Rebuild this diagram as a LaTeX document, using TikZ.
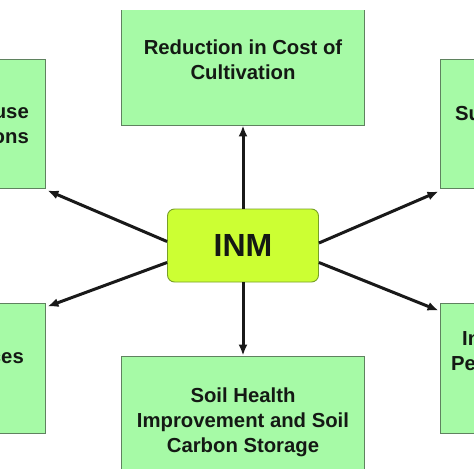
\documentclass[tikz,border=0pt]{standalone}
\usepackage{fontspec}
\setmainfont{Liberation Sans}
\usetikzlibrary{arrows.meta}
\definecolor{boxgreen}{RGB}{166,250,166}
\definecolor{boxline}{RGB}{95,130,95}
\definecolor{hubfill}{RGB}{204,255,51}
\definecolor{hubline}{RGB}{120,160,40}
\definecolor{inktext}{RGB}{20,25,20}
\begin{document}
\begin{tikzpicture}[x=1pt,y=-1pt,
		box/.style={draw=boxline,line width=0.9pt,fill=boxgreen,inner sep=0pt,align=center,text=inktext,font=\bfseries\fontsize{20.3}{25}\selectfont},
		txt/.style={inner sep=0pt,text=inktext,font=\bfseries\fontsize{20.3}{25}\selectfont},
		hub/.style={draw=hubline,line width=0.9pt,fill=hubfill,rounded corners=7pt,minimum width=151pt,minimum height=73pt,text=inktext,font=\bfseries\fontsize{32}{36}\selectfont},
		arr/.style={line width=3pt,draw=black!90,-{Latex[length=11pt,width=9pt]}}]
		\useasboundingbox (0,0) rectangle (474,474);
		\clip (0,10) rectangle (474,468);
		\node[hub] (inm) at (243,245.5) {INM};
		\node[box,minimum width=243pt,minimum height=131pt] (cost) at (243,59.5) {Reduction in Cost of\\Cultivation};
		\node[box,minimum width=243pt,minimum height=132pt] (soil) at (243,422) {Soil Health\\Improvement and Soil\\Carbon Storage};
		\node[box,minimum width=245pt,minimum height=129pt] (ghg) at (-77.5,123.5) {};
		\node[box,minimum width=245pt,minimum height=129pt] (sus) at (562.5,123.5) {};
		\node[box,minimum width=245pt,minimum height=130pt] (res) at (-77.5,368) {};
		\node[box,minimum width=245pt,minimum height=130pt] (pest) at (562.5,368) {};
		% cut-off texts of the side boxes
		\node[txt,anchor=base east] (ghgA) at (29,118) {use};
		\node[txt,anchor=base east] (ghgB) at (29,143) {ons};
		\node[txt,anchor=base west] (susA) at (455,120) {Su};
		\node[txt,anchor=base east] (resA) at (24,363) {ces};
		\node[txt,anchor=base west] (pestA) at (462,345) {In};
		\node[txt,anchor=base west] (pestB) at (451,370) {Pe};
		\draw[arr] (inm.north) -- (cost.south);
		\draw[arr] (inm.south) -- (soil.north);
		\draw[arr] ([yshift=4pt]inm.west) -- ([xshift=2pt,yshift=-2pt]ghg.south east);
		\draw[arr] ([yshift=-17pt]inm.west) -- ([xshift=2pt,yshift=-4pt]res.north east);
		\draw[arr] ([yshift=2.5pt]inm.east) -- ([xshift=-1pt,yshift=-3pt]sus.south west);
		\draw[arr] ([yshift=-17pt]inm.east) -- ([xshift=-1pt,yshift=-8pt]pest.north west);
	\end{tikzpicture}
\end{document}
